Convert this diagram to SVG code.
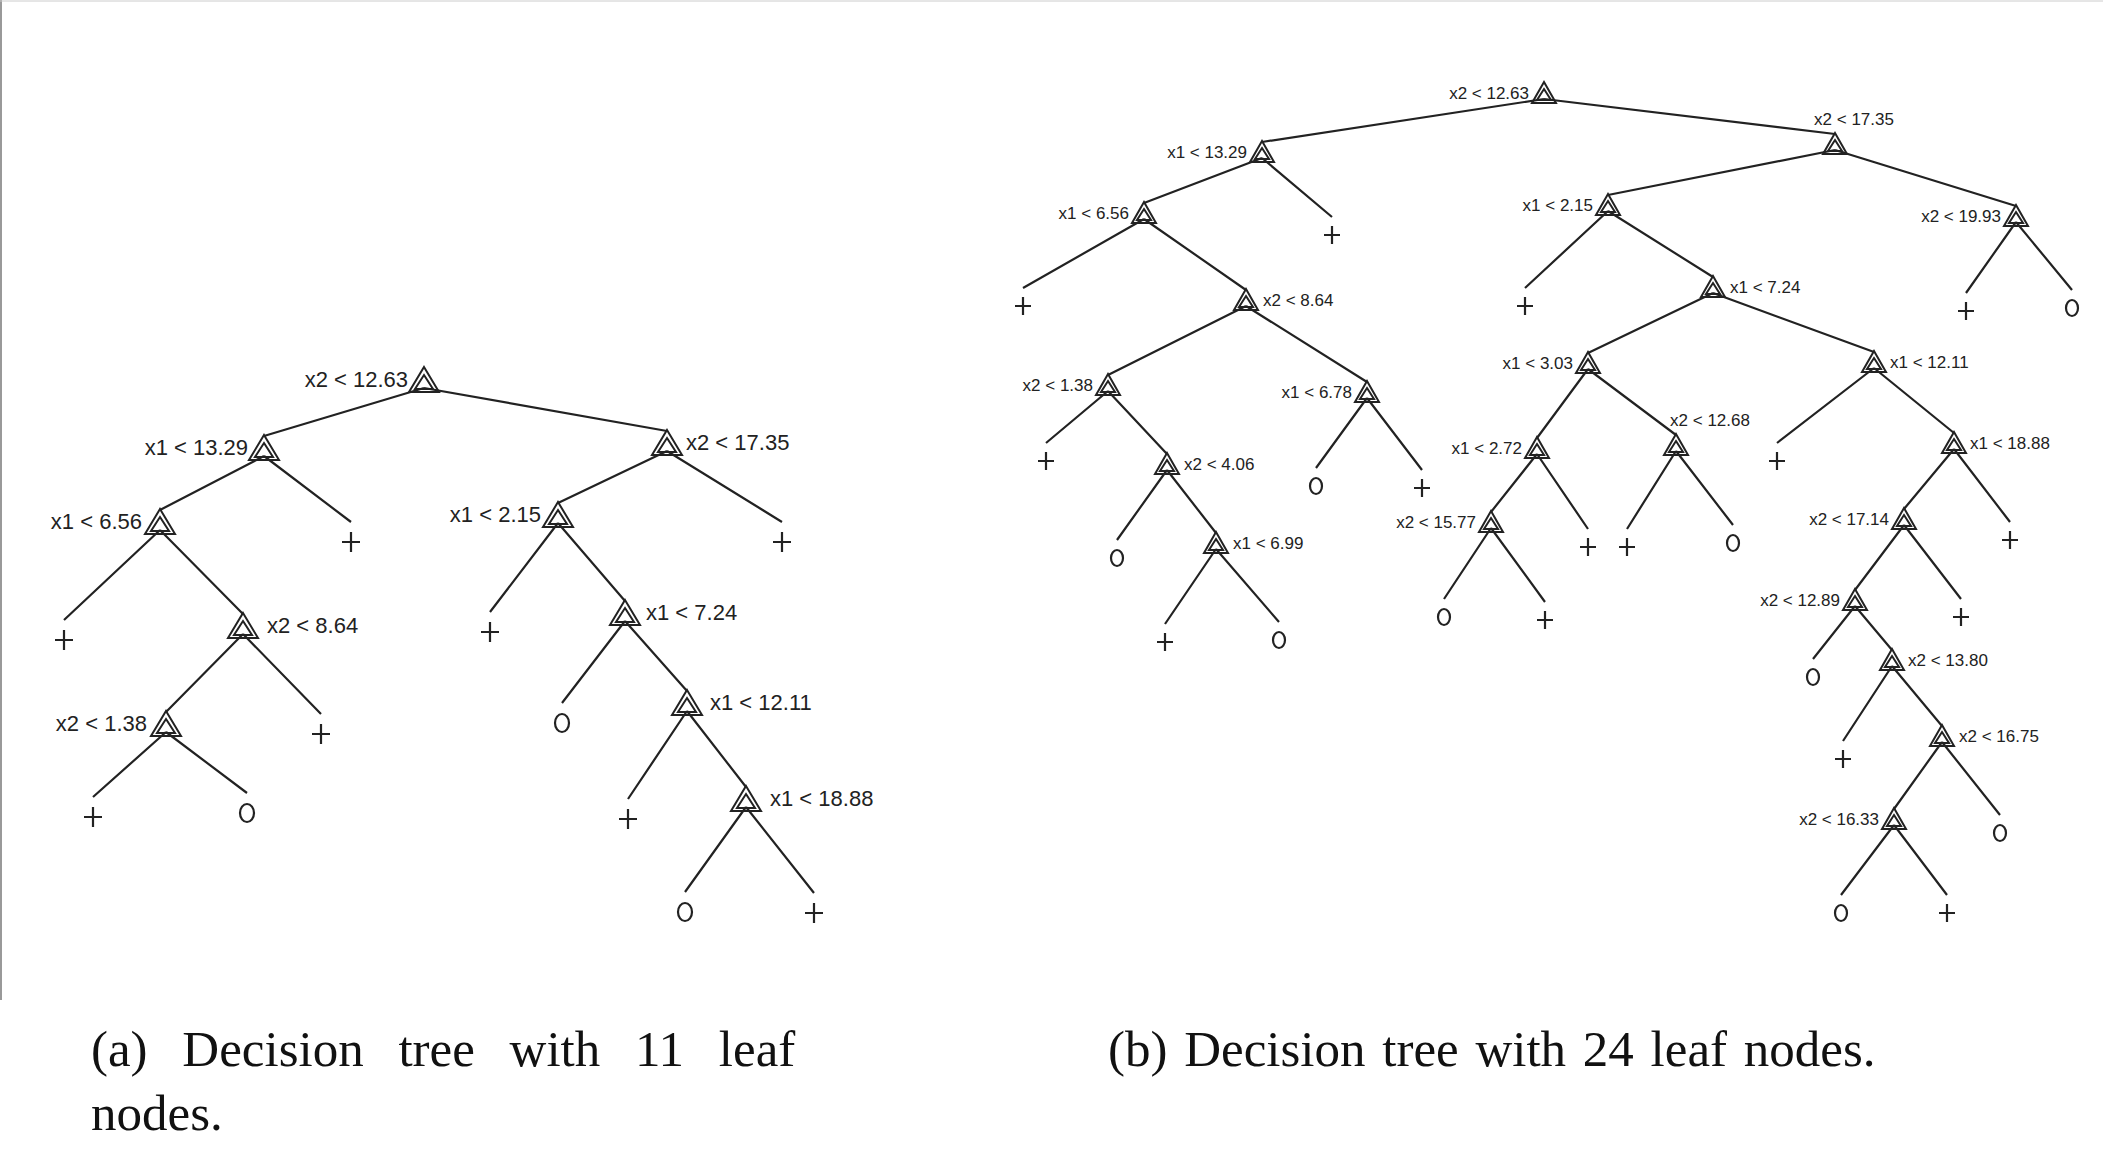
<svg xmlns="http://www.w3.org/2000/svg" xmlns:xlink="http://www.w3.org/1999/xlink" width="2103" height="1171" viewBox="0 0 2103 1171">
<style>
.e{stroke:#222;stroke-width:2.2;fill:none}
.t{fill:none;stroke:#222;stroke-width:2}
.la{font-family:"Liberation Sans",Arial,sans-serif;font-size:22px;fill:#222}
.lb{font-family:"Liberation Sans",Arial,sans-serif;font-size:17px;fill:#222}
.cap{font-family:"Liberation Serif","Times New Roman",serif;font-size:51px;fill:#111}
</style>
<defs>
<g id="ta"><path class="t" d="M0,-13 L15,12 L-15,12 Z M0,-5 L9,9 L-9,9 Z"/></g>
<g id="tb"><path class="t" d="M0,-11 L12,10 L-12,10 Z M0,-4 L7,7 L-7,7 Z"/></g>
<g id="pa"><path class="e" d="M-9,0 H9 M0,-10 V10"/></g>
<g id="oa"><ellipse class="e" rx="7" ry="9"/></g>
<g id="pb"><path class="e" d="M-8,0 H8 M0,-9 V9"/></g>
<g id="ob"><ellipse class="e" rx="6" ry="8"/></g>
</defs>
<rect width="2103" height="1171" fill="#fff"/>
<line x1="1" y1="0" x2="1" y2="1000" stroke="#999" stroke-width="2"/>
<line x1="0" y1="1" x2="2103" y2="1" stroke="#ccc" stroke-width="1"/>
<g id="connectors">
<path class="e" d="M424,388 L264,436 M424,388 L667,431 M264,456 L160,510 M264,456 L351,522 M667,451 L558,503 M667,451 L782,522 M160,530 L64,620 M160,530 L243,614 M558,523 L490,612 M558,523 L625,601 M243,634 L166,712 M243,634 L321,714 M625,621 L562,703 M625,621 L687,691 M166,732 L93,797 M166,732 L247,793 M687,711 L628,799 M687,711 L746,787 M746,807 L685,892 M746,807 L814,893"/>
<path class="e" d="M1544,99 L1262,142 M1544,99 L1835,134 M1262,158 L1144,203 M1262,158 L1332,217 M1835,150 L1608,195 M1835,150 L2016,206 M1144,219 L1023,288 M1144,219 L1246,290 M1608,211 L1525,288 M1608,211 L1713,277 M2016,222 L1966,293 M2016,222 L2072,290 M1246,306 L1108,375 M1246,306 L1367,382 M1713,293 L1588,353 M1713,293 L1874,352 M1108,391 L1046,443 M1108,391 L1167,454 M1367,398 L1316,468 M1367,398 L1422,470 M1588,369 L1537,438 M1588,369 L1676,435 M1874,368 L1777,443 M1874,368 L1954,433 M1167,470 L1117,540 M1167,470 L1216,533 M1537,454 L1491,512 M1537,454 L1588,529 M1676,451 L1627,529 M1676,451 L1733,525 M1954,449 L1904,509 M1954,449 L2010,522 M1216,549 L1165,624 M1216,549 L1279,622 M1491,528 L1444,599 M1491,528 L1545,602 M1904,525 L1855,590 M1904,525 L1961,599 M1855,606 L1813,659 M1855,606 L1892,650 M1892,666 L1843,741 M1892,666 L1942,726 M1942,742 L1894,809 M1942,742 L2000,815 M1894,825 L1841,895 M1894,825 L1947,895"/>
</g>
<g id="tree-a">
<g id="a-n1"><use href="#ta" x="424" y="380"/><text class="la" x="408" y="387" text-anchor="end">x2 &lt; 12.63</text></g>
<g id="a-n2"><use href="#ta" x="264" y="448"/><text class="la" x="248" y="455" text-anchor="end">x1 &lt; 13.29</text></g>
<g id="a-n3"><use href="#ta" x="667" y="443"/><text class="la" x="686" y="450">x2 &lt; 17.35</text></g>
<g id="a-n4"><use href="#ta" x="160" y="522"/><text class="la" x="142" y="529" text-anchor="end">x1 &lt; 6.56</text></g>
<g id="a-n5"><use href="#ta" x="558" y="515"/><text class="la" x="541" y="522" text-anchor="end">x1 &lt; 2.15</text></g>
<g id="a-n6"><use href="#ta" x="243" y="626"/><text class="la" x="267" y="633">x2 &lt; 8.64</text></g>
<g id="a-n7"><use href="#ta" x="625" y="613"/><text class="la" x="646" y="620">x1 &lt; 7.24</text></g>
<g id="a-n8"><use href="#ta" x="166" y="724"/><text class="la" x="147" y="731" text-anchor="end">x2 &lt; 1.38</text></g>
<g id="a-n9"><use href="#ta" x="687" y="703"/><text class="la" x="710" y="710">x1 &lt; 12.11</text></g>
<g id="a-n10"><use href="#ta" x="746" y="799"/><text class="la" x="770" y="806">x1 &lt; 18.88</text></g>
<g id="a-leaves">
<use href="#pa" x="351" y="542"/><use href="#pa" x="782" y="542"/><use href="#pa" x="64" y="640"/><use href="#pa" x="490" y="632"/><use href="#pa" x="321" y="734"/><use href="#oa" x="562" y="723"/><use href="#pa" x="93" y="817"/><use href="#oa" x="247" y="813"/><use href="#pa" x="628" y="819"/><use href="#oa" x="685" y="912"/><use href="#pa" x="814" y="913"/>
</g>
</g>
<g id="tree-b">
<g id="b-n1"><use href="#tb" x="1544" y="93"/><text class="lb" x="1529" y="99" text-anchor="end">x2 &lt; 12.63</text></g>
<g id="b-n2"><use href="#tb" x="1262" y="152"/><text class="lb" x="1247" y="158" text-anchor="end">x1 &lt; 13.29</text></g>
<g id="b-n3"><use href="#tb" x="1835" y="144"/><text class="lb" x="1854" y="125" text-anchor="middle">x2 &lt; 17.35</text></g>
<g id="b-n4"><use href="#tb" x="1144" y="213"/><text class="lb" x="1129" y="219" text-anchor="end">x1 &lt; 6.56</text></g>
<g id="b-n5"><use href="#tb" x="1608" y="205"/><text class="lb" x="1593" y="211" text-anchor="end">x1 &lt; 2.15</text></g>
<g id="b-n6"><use href="#tb" x="2016" y="216"/><text class="lb" x="2001" y="222" text-anchor="end">x2 &lt; 19.93</text></g>
<g id="b-n7"><use href="#tb" x="1246" y="300"/><text class="lb" x="1263" y="306">x2 &lt; 8.64</text></g>
<g id="b-n8"><use href="#tb" x="1713" y="287"/><text class="lb" x="1730" y="293">x1 &lt; 7.24</text></g>
<g id="b-n9"><use href="#tb" x="1108" y="385"/><text class="lb" x="1093" y="391" text-anchor="end">x2 &lt; 1.38</text></g>
<g id="b-n10"><use href="#tb" x="1367" y="392"/><text class="lb" x="1352" y="398" text-anchor="end">x1 &lt; 6.78</text></g>
<g id="b-n11"><use href="#tb" x="1588" y="363"/><text class="lb" x="1573" y="369" text-anchor="end">x1 &lt; 3.03</text></g>
<g id="b-n12"><use href="#tb" x="1874" y="362"/><text class="lb" x="1890" y="368">x1 &lt; 12.11</text></g>
<g id="b-n13"><use href="#tb" x="1167" y="464"/><text class="lb" x="1184" y="470">x2 &lt; 4.06</text></g>
<g id="b-n14"><use href="#tb" x="1537" y="448"/><text class="lb" x="1522" y="454" text-anchor="end">x1 &lt; 2.72</text></g>
<g id="b-n15"><use href="#tb" x="1676" y="445"/><text class="lb" x="1710" y="426" text-anchor="middle">x2 &lt; 12.68</text></g>
<g id="b-n16"><use href="#tb" x="1954" y="443"/><text class="lb" x="1970" y="449">x1 &lt; 18.88</text></g>
<g id="b-n17"><use href="#tb" x="1216" y="543"/><text class="lb" x="1233" y="549">x1 &lt; 6.99</text></g>
<g id="b-n18"><use href="#tb" x="1491" y="522"/><text class="lb" x="1476" y="528" text-anchor="end">x2 &lt; 15.77</text></g>
<g id="b-n19"><use href="#tb" x="1904" y="519"/><text class="lb" x="1889" y="525" text-anchor="end">x2 &lt; 17.14</text></g>
<g id="b-n20"><use href="#tb" x="1855" y="600"/><text class="lb" x="1840" y="606" text-anchor="end">x2 &lt; 12.89</text></g>
<g id="b-n21"><use href="#tb" x="1892" y="660"/><text class="lb" x="1908" y="666">x2 &lt; 13.80</text></g>
<g id="b-n22"><use href="#tb" x="1942" y="736"/><text class="lb" x="1959" y="742">x2 &lt; 16.75</text></g>
<g id="b-n23"><use href="#tb" x="1894" y="819"/><text class="lb" x="1879" y="825" text-anchor="end">x2 &lt; 16.33</text></g>
<g id="b-leaves">
<use href="#pb" x="1332" y="235"/><use href="#pb" x="1023" y="306"/><use href="#pb" x="1525" y="306"/><use href="#pb" x="1966" y="311"/><use href="#ob" x="2072" y="308"/><use href="#pb" x="1046" y="461"/><use href="#ob" x="1316" y="486"/><use href="#pb" x="1422" y="488"/><use href="#pb" x="1777" y="461"/><use href="#ob" x="1117" y="558"/><use href="#pb" x="1588" y="547"/><use href="#pb" x="1627" y="547"/><use href="#ob" x="1733" y="543"/><use href="#pb" x="2010" y="540"/><use href="#pb" x="1165" y="642"/><use href="#ob" x="1279" y="640"/><use href="#ob" x="1444" y="617"/><use href="#pb" x="1545" y="620"/><use href="#pb" x="1961" y="617"/><use href="#ob" x="1813" y="677"/><use href="#pb" x="1843" y="759"/><use href="#ob" x="2000" y="833"/><use href="#ob" x="1841" y="913"/><use href="#pb" x="1947" y="913"/>
</g>
</g>
<g id="captions">
<text class="cap" x="91" y="1066" word-spacing="22">(a) Decision tree with 11 leaf</text>
<text class="cap" x="91" y="1130">nodes.</text>
<text class="cap" x="1108" y="1066" word-spacing="4">(b) Decision tree with 24 leaf nodes.</text>
</g>
</svg>
